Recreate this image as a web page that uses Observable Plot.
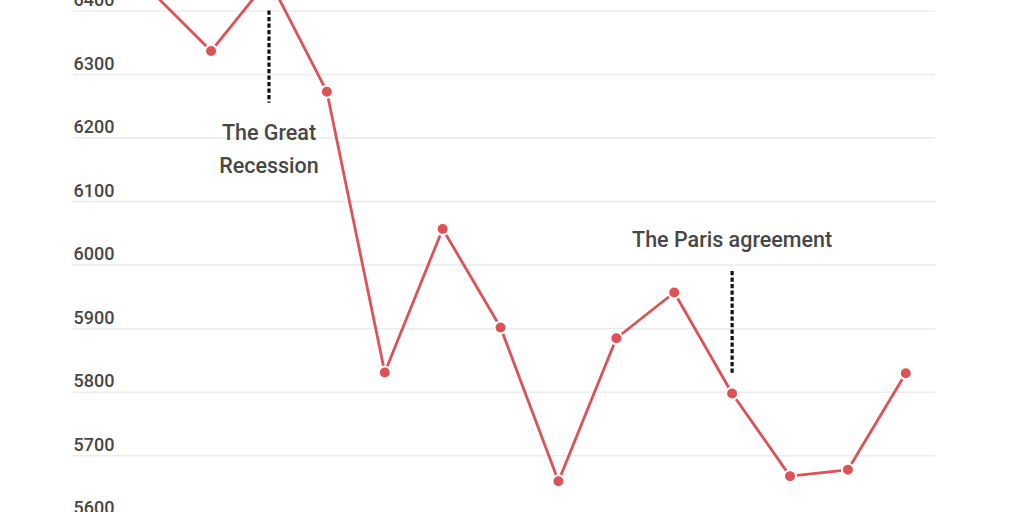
<!DOCTYPE html>
<html>
<head>
<meta charset="utf-8">
<script src="https://cdn.jsdelivr.net/npm/d3@7"></script>
<script src="https://cdn.jsdelivr.net/npm/@observablehq/plot@0.6"></script>
<style>
  html, body { margin: 0; padding: 0; background: #fff; overflow: hidden; }
  #chart svg { display: block; font-family: Roboto, "Noto Sans", sans-serif; }
</style>
</head>
<body>
<div id="chart"></div>
<script>
const years = [2005, 2006, 2007, 2008, 2009, 2010, 2011, 2012, 2013, 2014, 2015, 2016, 2017, 2018];
const emissions = [6428, 6337, 6450, 6273, 5831, 6057, 5902, 5660, 5885, 5957, 5798, 5668, 5678, 5830];
const yTicks = [5600, 5700, 5800, 5900, 6000, 6100, 6200, 6300, 6400];
const annoYears = [2007, 2015];
const annoLabels = ["The Great\nRecession", "The Paris agreement"];

const data = years.map((year, i) => ({year, value: emissions[i]}));
const annos = annoYears.map((year, i) => ({year, label: annoLabels[i]}));

const red = "#dd5256";

const chart = Plot.plot({
  width: 1024,
  height: 512,
  marginLeft: 73,
  marginRight: 89,
  marginTop: 0,
  marginBottom: 0,
  style: {fontFamily: "Roboto, 'Noto Sans', sans-serif", background: "#fff", overflow: "hidden"},
  x: {type: "linear", domain: [2005, 2018], range: [152.7, 905.3], axis: null},
  y: {type: "linear", domain: [5700, 6400], range: [455.3, 10.5], axis: null},
  marks: [
    Plot.gridY(yTicks, {stroke: "#ececec", strokeOpacity: 1, strokeWidth: 1.6}),
    Plot.text(yTicks, {
      y: d => d, text: d => String(d),
      frameAnchor: "left", textAnchor: "start", lineAnchor: "bottom",
      dy: -5, fontSize: 18, fontWeight: 500, fill: "#474747"
    }),
    Plot.ruleX(annos.slice(0, 1), {x: "year", y1: 6400, y2: 6255, stroke: "#111", strokeWidth: 3.2, strokeDasharray: "4.2,2.3"}),
    Plot.ruleX(annos.slice(1), {x: "year", y1: 5990, y2: 5830, stroke: "#111", strokeWidth: 3.2, strokeDasharray: "4.2,2.3"}),
    Plot.text(annos.slice(0, 1), {x: "year", y: 6197, text: "label", textAnchor: "middle", lineAnchor: "bottom", lineHeight: 1.56, fontSize: 21.5, fontWeight: 500, fill: "#474747", dy: 33.4}),
    Plot.text(annos.slice(1), {x: "year", y: 6029, text: "label", textAnchor: "middle", lineAnchor: "bottom", fontSize: 21.5, fontWeight: 500, fill: "#474747"}),
    Plot.line(data, {x: "year", y: "value", stroke: red, strokeWidth: 2.8}),
    Plot.dot(data, {x: "year", y: "value", r: 6, fill: red, stroke: "#fff", strokeWidth: 2})
  ]
});
document.getElementById("chart").append(chart);
</script>
</body>
</html>
